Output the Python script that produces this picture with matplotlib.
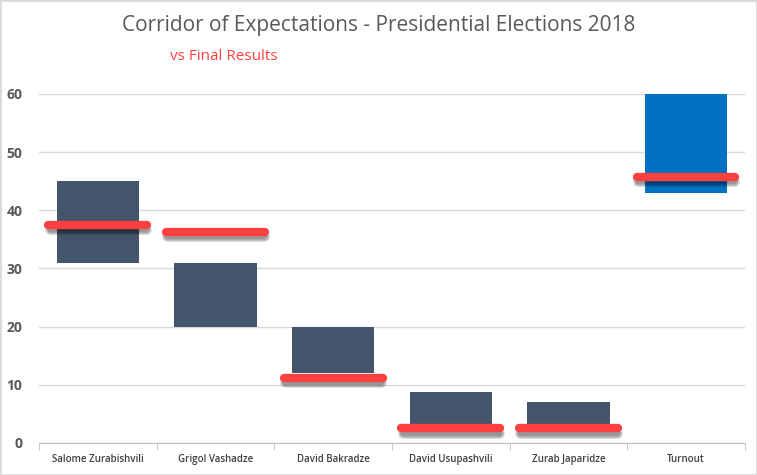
import matplotlib.pyplot as plt
from matplotlib.patches import Rectangle

# data
candidates = ['Salome Zurabishvili', 'Grigol Vashadze', 'David Bakradze',
              'David Usupashvili', 'Zurab Japaridze', 'Turnout']
low = [31, 20, 12, 3, 3, 43]
high = [45, 31, 20, 8.8, 7, 60]
result = [37.5, 36.3, 11.2, 2.5, 2.5, 45.7]
colors = ['#44546A'] * 5 + ['#0070C0']

plt.rcParams['font.family'] = ['Open Sans', 'DejaVu Sans']

fig = plt.figure(figsize=(7.57, 4.75), dpi=100)
ax = fig.add_axes([0.0515, 0.0674, 0.9325, 0.735])

x = range(len(candidates))
ax.bar(x, [h - l for h, l in zip(high, low)], bottom=low, width=0.7,
       color=colors, zorder=2)

# red result markers with a soft drop shadow
for i, r in zip(x, result):
    for k in range(4):
        ax.plot([i - 0.41, i + 0.41], [r - 0.7, r - 0.7], color='black',
                lw=4 + 1.3 * k, alpha=0.12, solid_capstyle='round', zorder=3)
    ax.plot([i - 0.42, i + 0.42], [r, r], color='#FF4040', lw=6,
            solid_capstyle='round', zorder=4)

ax.set_xlim(-0.5, len(candidates) - 0.5)
ax.set_ylim(0, 60)
ax.set_yticks(range(0, 61, 10))
ax.yaxis.grid(True, color='#D9D9D9', lw=1)
ax.set_axisbelow(True)
for s in ['top', 'right', 'left']:
    ax.spines[s].set_visible(False)
ax.spines['bottom'].set_color('#BFBFBF')
ax.tick_params(axis='y', length=0, pad=12, labelsize=10, labelcolor='#595959')
for t in ax.get_yticklabels():
    t.set_fontweight('bold')
ax.set_xticks(list(x))
ax.set_xticklabels(candidates, fontsize=7, color='#404040', fontweight='semibold')
ax.set_xticks([i + 0.5 for i in range(-1, len(candidates))], minor=True)
ax.tick_params(axis='x', which='major', length=0, pad=8)
ax.tick_params(axis='x', which='minor', length=5, color='#BFBFBF')

fig.text(0.5, 0.947, 'Corridor of Expectations - Presidential Elections 2018',
         ha='center', va='center', fontsize=15, color='#595959')
fig.text(0.225, 0.882, 'vs Final Results', ha='left', va='center',
         fontsize=11, color='#FF4040')

fig.patches.append(Rectangle((0, 0), 1, 1, transform=fig.transFigure,
                             fill=False, edgecolor='#D9D9D9', lw=2))

fig.savefig('out.png', dpi=100)
